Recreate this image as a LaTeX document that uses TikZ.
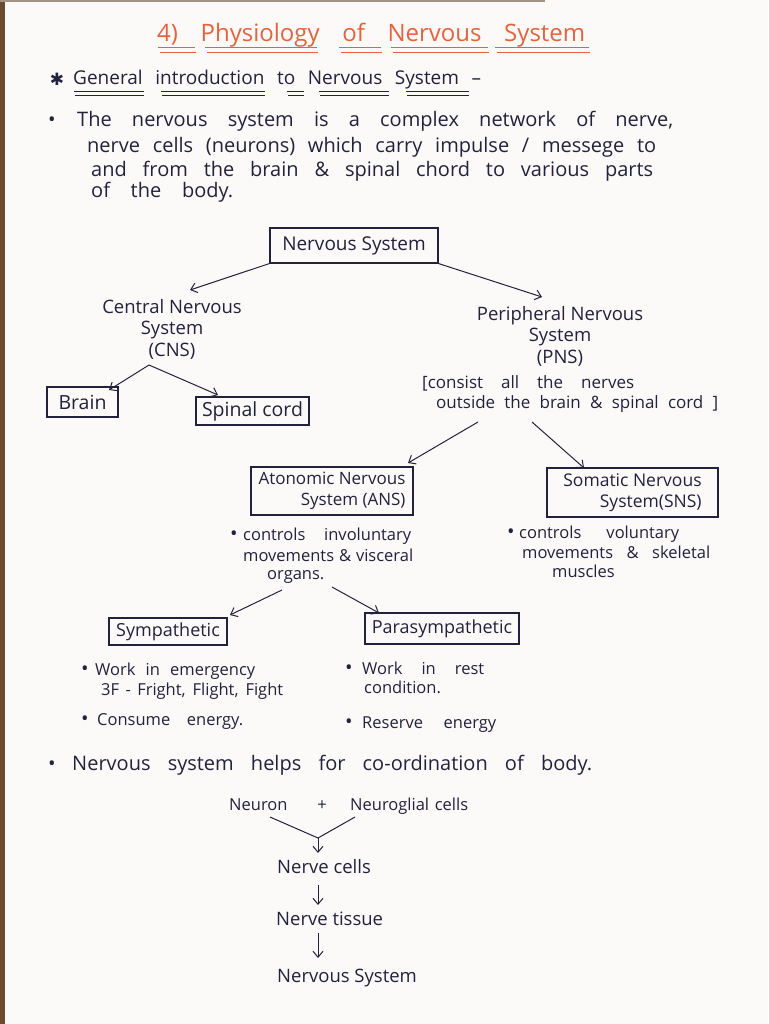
\documentclass[tikz,border=0pt]{standalone}
\usepackage{fontspec}
\setmainfont{Open Sans}
\newfontfamily\symf{DejaVu Sans}
\usetikzlibrary{arrows.meta}
\definecolor{ink}{HTML}{22223C}
\definecolor{redink}{HTML}{E4633F}
\definecolor{paper}{HTML}{FCFAF9}
\definecolor{edgebrown}{HTML}{6B4A2E}
\newcommand{\fitw}[2]{\makebox[#1][s]{#2}}
\begin{document}
\begin{tikzpicture}[x=1pt,y=-1pt,
  txt/.style={anchor=base west, inner sep=0pt, text=ink, font=\fontsize{20}{24}\selectfont},
  note/.style={txt, font=\fontsize{16.5}{20}\selectfont},
  small/.style={txt, font=\fontsize{18.5}{22}\selectfont},
  ttl/.style={anchor=base west, inner sep=0pt, text=redink, font=\fontsize{24}{28}\selectfont},
  box/.style={draw=ink, line width=1.1pt, inner sep=0pt, text=ink, font=\fontsize{18}{21}\selectfont},
  grp/.style={inner sep=0pt, text=ink, align=center, font=\fontsize{18.5}{21.5}\selectfont},
  arr/.style={draw=ink, line width=1pt, -{Straight Barb[length=6pt,width=10pt]}},
  ln/.style={draw=ink, line width=1pt},
  rul/.style={draw=redink, line width=0.9pt},
  bul/.style={draw=ink, line width=0.9pt},
  dot/.style={txt, anchor=base}
]
% page
\fill[paper] (0,0) rectangle (768,1024);
\useasboundingbox (0,0) rectangle (768,1024);
\fill[edgebrown] (0,0) rectangle (5,1024);
\fill[edgebrown!60] (0,0) rectangle (545,2.5);

% title
\node[ttl] (title) at (157,42) {\fitw{428pt}{4) Physiology of Nervous System}};
\foreach \a/\b in {158/195,205/317,339/381,391/488,495/589}{
  \draw[rul] (\a,47) -- (\b,47);
  \draw[rul] (\a+2,52) -- (\b+1,52);
}

% heading
\node[txt, anchor=base, font=\symf\fontsize{17}{18}\selectfont] (star) at (57,86) {✱};
\node[txt, font=\fontsize{19}{22}\selectfont] (head) at (73,85) {\fitw{408pt}{General introduction to Nervous System –}};
\foreach \a/\b in {74/144,161/265,287/304,319/389,406/469}{
  \draw[bul] (\a,91) -- (\b,91);
  \draw[bul] (\a+1,95) -- (\b,95);
}

% paragraph
\node[dot] (b1) at (52,127) {•};
\node[txt] (p1) at (77,127) {\fitw{596pt}{The nervous system is a complex network of nerve,}};
\node[txt] (p2) at (87,153) {\fitw{569pt}{nerve cells (neurons) which carry impulse / messege to}};
\node[txt] (p3) at (91,177) {\fitw{562pt}{and from the brain \& spinal chord to various parts}};
\node[txt] (p4) at (91,198) {\fitw{142pt}{of the body.}};

% tree
\node[box, minimum width=168pt, minimum height=35pt, font=\fontsize{19}{22}\selectfont] (ns) at (354,245.5) {Nervous System};
\node[grp] (cns) at (172,329) {Central Nervous\\System\\(CNS)};
\node[grp] (pns) at (560,336) {Peripheral Nervous\\System\\(PNS)};
\node[grp, align=left, anchor=west, font=\fontsize{17}{19.5}\selectfont] (pnsnote) at (422,394) {\fitw{212pt}{[consist all the nerves}\\\hspace{14pt}\fitw{282pt}{outside the brain \& spinal cord ]}};
\coordinate (cnsa) at (190,290);
\coordinate (pnsa) at (542,297);
\draw[arr] (ns.south west) -- (cnsa);
\draw[arr] (ns.south east) -- (pnsa);

\node[box, minimum width=71pt, minimum height=30pt, font=\fontsize{19.5}{22}\selectfont] (brain) at (82.5,402) {Brain};
\node[box, minimum width=113pt, minimum height=28pt, font=\fontsize{19.5}{22}\selectfont] (spinal) at (252.5,411) {Spinal cord};
\coordinate (cnsx) at (149,365);
\coordinate (braina) at (109,390);
\coordinate (spinala) at (218,395);
\draw[arr] (cnsx) -- (braina);
\draw[arr] (cnsx) -- (spinala);

\node[box, minimum width=162pt, minimum height=48pt, align=right, font=\fontsize{17}{21}\selectfont] (ans) at (332,491) {Atonomic Nervous\\System (ANS)};
\node[box, minimum width=171pt, minimum height=49pt, align=right, font=\fontsize{17.5}{21}\selectfont] (sns) at (632.5,492.5) {Somatic Nervous\\System(SNS)};
\coordinate (pnsl) at (478,422);
\coordinate (pnsr) at (532,422);
\coordinate (ansa) at (408,463);
\coordinate (snsa) at (584,468);
\draw[arr] (pnsl) -- (ansa);
\draw[arr] (pnsr) -- (snsa);

% ANS notes
\node[dot] (and) at (234,540) {•};
\node[note] (an1) at (243,540) {\fitw{168pt}{controls involuntary}};
\node[note] (an2) at (243,561) {\fitw{170pt}{movements \& visceral}};
\node[note] (an3) at (267,579) {organs.};
% SNS notes
\node[dot] (snd) at (511,538) {•};
\node[note] (sn1) at (519,538) {\fitw{160pt}{controls voluntary}};
\node[note] (sn2) at (522,558) {\fitw{188pt}{movements \& skeletal}};
\node[note] (sn3) at (552,577) {muscles};

\node[box, minimum width=118pt, minimum height=27pt] (symp) at (168,631.5) {Sympathetic};
\node[box, minimum width=154pt, minimum height=31pt] (para) at (442,628.5) {Parasympathetic};
\coordinate (ansl) at (282,590);
\coordinate (ansr) at (332,587);
\coordinate (sympa) at (230,615);
\coordinate (paraa) at (379,613);
\draw[arr] (ansl) -- (sympa);
\draw[arr] (ansr) -- (paraa);

% sympathetic notes
\node[dot] (syd1) at (85,675) {•};
\node[note] (sy1) at (95,675) {\fitw{160pt}{Work in emergency}};
\node[note] (sy2) at (101,695) {\fitw{182pt}{3F - Fright, Flight, Fight}};
\node[dot] (syd3) at (85,725) {•};
\node[note] (sy3) at (97,725) {\fitw{146pt}{Consume energy.}};
% parasympathetic notes
\node[dot] (pad1) at (349,674) {•};
\node[note] (pa1) at (362,674) {\fitw{122pt}{Work in rest}};
\node[note] (pa2) at (364,693) {condition.};
\node[dot] (pad3) at (349,728) {•};
\node[note] (pa3) at (362,728) {\fitw{134pt}{Reserve energy}};

% last bullet
\node[dot] (lastd) at (52,770) {•};
\node[txt] (last) at (72,770) {\fitw{520pt}{Nervous system helps for co-ordination of body.}};

% formation chain
\node[note] (neuron) at (229,810) {Neuron};
\node[note, anchor=base] (plus) at (322,810) {+};
\node[note] (glia) at (350,810) {\fitw{118pt}{Neuroglial cells}};
\coordinate (jn) at (318,838);
\coordinate (neurona) at (270,817);
\coordinate (gliaa) at (355,817);
\draw[ln] (neurona) -- (jn) -- (gliaa);
\coordinate (jnb) at (318,853);
\draw[arr] (jn) -- (jnb);
\node[small] (nc) at (277,873) {Nerve cells};
\node[small] (nt) at (276,925) {Nerve tissue};
\node[small] (nsys) at (277,982) {Nervous System};
\coordinate (a1s) at (318,885);
\coordinate (a1e) at (318,905);
\coordinate (a2s) at (318,933);
\coordinate (a2e) at (318,958);
\draw[arr] (a1s) -- (a1e);
\draw[arr] (a2s) -- (a2e);
\end{tikzpicture}
\end{document}
